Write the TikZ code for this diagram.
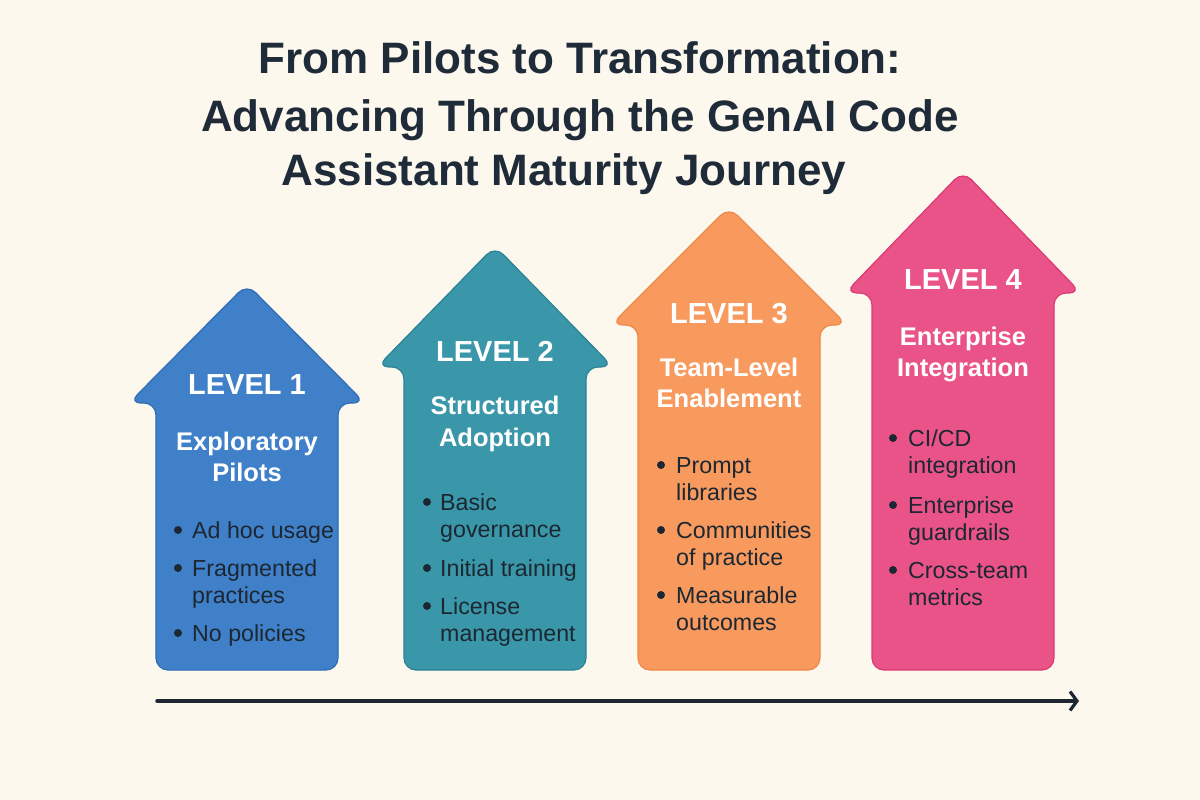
\documentclass[tikz,border=0pt]{standalone}
\usepackage{fontspec}
\setmainfont{Liberation Sans}
\usetikzlibrary{arrows.meta}
\definecolor{bg}{HTML}{FDF8EE}
\definecolor{ink}{HTML}{1C2732}
\definecolor{titleink}{HTML}{1F2B38}
\definecolor{cblue}{HTML}{4080C8}
\definecolor{cblueb}{HTML}{2F6DB6}
\definecolor{cteal}{HTML}{3A97A9}
\definecolor{ctealb}{HTML}{2A8396}
\definecolor{corange}{HTML}{F89A5E}
\definecolor{coranb}{HTML}{EE8748}
\definecolor{cpink}{HTML}{EA5388}
\definecolor{cpinkb}{HTML}{DA3A73}
\newcommand\lvlarrow[5]{%
  \draw[fill=#4, draw=#5, line width=1.2pt, rounded corners=12pt]
    (#1,#2) -- (#1+118,#3) -- (#1+91,#3) -- (#1+91,670) -- (#1-91,670)
    -- (#1-91,#3) -- (#1-118,#3) -- cycle;}
\begin{document}
\begin{tikzpicture}[x=1pt,y=-1pt,
  ttl/.style={text=titleink, font=\bfseries\fontsize{44}{50}\selectfont, anchor=base, inner sep=0},
  lvl/.style={text=white, font=\bfseries\fontsize{29}{34}\selectfont, anchor=base, inner sep=0},
  sub/.style={text=white, font=\bfseries\fontsize{25.5}{31}\selectfont, anchor=base, inner sep=0},
  itm/.style={text=ink, font=\fontsize{23.2}{27}\selectfont, anchor=base west, inner sep=0},
  dot/.style={circle, fill=ink, inner sep=0, minimum size=8pt}]
\fill[bg] (0,0) rectangle (1200,800);
\useasboundingbox (0,0) rectangle (1200,800);

% title
\node[ttl] (t1) at (580,74) {From Pilots to Transformation:};
\node[ttl] (t2) at (580,131) {Advancing Through the GenAI Code};
\node[ttl] (t3) at (564,185) {Assistant Maturity Journey};

% arrows
\lvlarrow{247}{284}{403}{cblue}{cblueb}
\lvlarrow{495}{246}{367}{cteal}{ctealb}
\lvlarrow{729}{207}{325}{corange}{coranb}
\lvlarrow{963}{171}{293}{cpink}{cpinkb}

% level 1
\node[lvl] (l1) at (247,394) {LEVEL 1};
\node[sub] (s1a) at (247,450) {Exploratory};
\node[sub] (s1b) at (247,481) {Pilots};
\node[dot] (d1a) at (178,530) {};
\node[itm] (i1a) at (192,538) {Ad hoc usage};
\node[dot] (d1b) at (178,568) {};
\node[itm] (i1b) at (192,576) {Fragmented};
\node[itm] (i1c) at (192,603) {practices};
\node[dot] (d1c) at (178,633) {};
\node[itm] (i1d) at (192,641) {No policies};

% level 2
\node[lvl] (l2) at (495,361) {LEVEL 2};
\node[sub] (s2a) at (495,414) {Structured};
\node[sub] (s2b) at (495,446) {Adoption};
\node[dot] (d2a) at (427,502) {};
\node[itm] (i2a) at (440,510) {Basic};
\node[itm] (i2b) at (440,537) {governance};
\node[dot] (d2b) at (427,568) {};
\node[itm] (i2c) at (440,576) {Initial training};
\node[dot] (d2c) at (427,606) {};
\node[itm] (i2d) at (440,614) {License};
\node[itm] (i2e) at (440,641) {management};

% level 3
\node[lvl] (l3) at (729,323) {LEVEL 3};
\node[sub] (s3a) at (729,376) {Team-Level};
\node[sub] (s3b) at (729,407) {Enablement};
\node[dot] (d3a) at (661,465) {};
\node[itm] (i3a) at (676,473) {Prompt};
\node[itm] (i3b) at (676,500) {libraries};
\node[dot] (d3b) at (661,530) {};
\node[itm] (i3c) at (676,538) {Communities};
\node[itm] (i3d) at (676,565) {of practice};
\node[dot] (d3c) at (661,595) {};
\node[itm] (i3e) at (676,603) {Measurable};
\node[itm] (i3f) at (676,630) {outcomes};

% level 4
\node[lvl] (l4) at (963,289) {LEVEL 4};
\node[sub] (s4a) at (963,345) {Enterprise};
\node[sub] (s4b) at (963,376) {Integration};
\node[dot] (d4a) at (893,438) {};
\node[itm] (i4a) at (908,446) {CI/CD};
\node[itm] (i4b) at (908,473) {integration};
\node[dot] (d4b) at (893,505) {};
\node[itm] (i4c) at (908,513) {Enterprise};
\node[itm] (i4d) at (908,540) {guardrails};
\node[dot] (d4c) at (893,570) {};
\node[itm] (i4e) at (908,578) {Cross-team};
\node[itm] (i4f) at (908,605) {metrics};

% timeline
\coordinate (tl0) at (157,701);
\coordinate (tl1) at (1079,701);
\draw[ink, line width=3.5pt, line cap=round,
  -{Straight Barb[length=7pt,width=19pt,line width=3.2pt]}] (tl0) -- (tl1);
\end{tikzpicture}
\end{document}
